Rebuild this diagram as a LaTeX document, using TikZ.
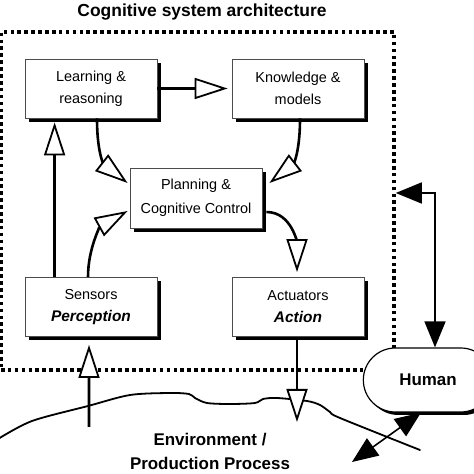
\documentclass[tikz,border=0pt]{standalone}
\usepackage{fontspec}
\setmainfont{Liberation Sans}
\usetikzlibrary{arrows.meta,shadows,shapes.misc}

\tikzset{
  unit/.style={draw=black!70, line width=0.8bp, fill=white, minimum width=132bp, minimum height=59bp,
    align=center, font=\fontsize{14.5}{22}\selectfont,
    drop shadow={shadow xshift=4bp, shadow yshift=-4bp, fill=black, opacity=1}},
  flow/.style={line width=2.6bp, -{Triangle[fill=white, length=33bp, width=21bp, line width=1.8bp]}},
  hlink/.style={line width=1.6bp, {Triangle[length=26bp, width=21bp]}-{Triangle[length=26bp, width=21bp]}},
  archbox/.style={draw, line width=3.5bp, dash pattern=on 3.6bp off 3.3bp, minimum width=393bp, minimum height=338bp}
}

\begin{document}
\begin{tikzpicture}[x=1bp, y=1bp]
		\useasboundingbox (0,0) rectangle (474,474);
		%Frame and title
		\node (arch) [archbox] at (197.5,273) {};
		\node (title) [font=\bfseries\fontsize{17.5}{20}\selectfont, anchor=base] at (202,457) {Cognitive system architecture};
		%Ground line
		\draw[line width=1.8bp, line cap=round] plot[smooth, tension=0.5] coordinates {(-2,35) (32,53) (88,68) (130,79) (170,81) (189,80) (195,76) (207,71) (230,70) (255,71) (263,75) (277,76) (307,73) (320,69) (330,62) (340,56) (420,24)};
		\node (envtext) [font=\bfseries\fontsize{17}{25}\selectfont, align=center, anchor=base] at (210,4) {Environment /\\Production Process};
		%Units
		\node (learn) [unit] at (91,385.5) {Learning \&\\reasoning};
		\node (know) [unit] at (298,385.5) {Knowledge \&\\models};
		\node (plan) [unit, minimum height=60bp] at (196,276) {Planning \&\\[2bp]Cognitive Control};
		\node (sens) [unit] at (91,167) {Sensors\\{\bfseries\itshape\fontsize{15.5}{22}\selectfont Perception}};
		\node (act) [unit] at (298,167) {Actuators\\{\bfseries\itshape\fontsize{15.5}{22}\selectfont Action}};
		\node (human) [rounded rectangle, draw, line width=1.2bp, fill=white, minimum width=136bp, minimum height=64bp,
		  font=\bfseries\fontsize{17}{20}\selectfont,
		  drop shadow={shadow xshift=3bp, shadow yshift=-3bp, fill=black, opacity=1}] at (428,94) {Human};
		\coordinate (envin) at (89,47);
		\coordinate (actout) at (297,52);
		\coordinate (envhum) at (352,12);
		%Flows
		\draw[flow, shorten >=4bp] (learn.east) -- (know.west);
		\draw[flow] ([xshift=6bp]learn.south) to[out=-90, in=142, out looseness=1.4] ([shift={(-2bp,15bp)}]plan.west);
		\draw[flow] ([xshift=2bp]know.south) to[out=-90, in=38, out looseness=1.4] ([shift={(7bp,15bp)}]plan.east);
		\draw[flow, shorten >=4bp] ([xshift=30bp]sens.north west) -- ([xshift=30bp]learn.south west);
		\draw[flow] ([xshift=-3bp]sens.north) to[out=90, in=-151] ([shift={(-2bp,-13bp)}]plan.west);
		\draw[flow] ([shift={(4bp,-14bp)}]plan.east) to[out=0, in=90] ([shift={(-1bp,5bp)}]act.north);
		\draw[flow] ([xshift=-1bp]act.south) -- (actout);
		\draw[flow, shorten >=8bp] (envin) -- ([xshift=-2bp]sens.south);
		%Human links
		\draw[hlink] ([yshift=8bp]arch.east) -| ([xshift=7bp]human.north);
		\draw[hlink] ([xshift=-7bp]human.south) -- (envhum);
\end{tikzpicture}
\end{document}
